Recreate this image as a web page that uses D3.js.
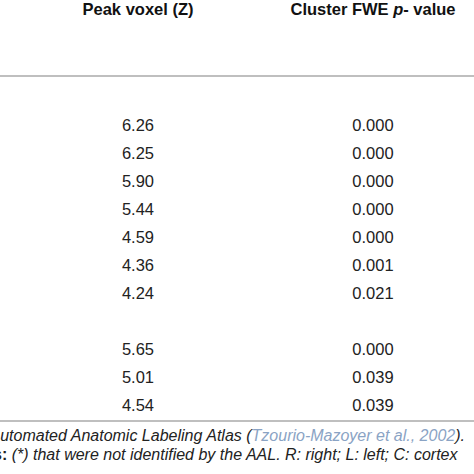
<!DOCTYPE html>
<html><head><meta charset="utf-8">
<script src="https://cdn.jsdelivr.net/npm/d3@7"></script>
<style>body{margin:0;background:#fff}</style>
</head><body>
<div id="chart"></div>
<script>
var headers = ["Peak voxel (Z)", "Cluster FWE p- value"];
var peakZ = ["6.26", "6.25", "5.90", "5.44", "4.59", "4.36", "4.24", null, "5.65", "5.01", "4.54"];
var pValues = ["0.000", "0.000", "0.000", "0.000", "0.000", "0.001", "0.021", null, "0.000", "0.039", "0.039"];

var width = 474, height = 474;
var svg = d3.select("#chart").append("svg").attr("width", width).attr("height", height)
    .style("font-family", "'Liberation Sans', Arial, sans-serif");

var x = d3.scalePoint().domain([0, 1]).range([138, 373]);
var y = d3.scaleLinear().domain([0, 10]).range([125, 405]);

// header
var hd = svg.append("g").attr("font-weight", "bold").attr("font-size", 16.5).attr("fill", "#111")
    .attr("text-anchor", "middle");
hd.append("text").attr("x", x(0)).attr("y", 15).text(headers[0]);
var h2 = hd.append("text").attr("x", x(1)).attr("y", 15);
h2.append("tspan").text("Cluster FWE ");
h2.append("tspan").attr("font-style", "italic").text("p");
h2.append("tspan").text("- value");

svg.append("line").attr("x1", 0).attr("x2", width).attr("y1", 76).attr("y2", 76)
    .attr("stroke", "#aaa").attr("stroke-width", 1.5);
svg.append("line").attr("x1", 0).attr("x2", width).attr("y1", 421).attr("y2", 421)
    .attr("stroke", "#aaa").attr("stroke-width", 1.5);

var rows = svg.append("g").attr("font-size", 16.5).attr("fill", "#222").attr("text-anchor", "middle");
peakZ.forEach(function (v, i) {
    if (v == null) return;
    rows.append("text").attr("x", x(0)).attr("y", y(i)).attr("dy", "0.35em").text(v);
    rows.append("text").attr("x", x(1)).attr("y", y(i)).attr("dy", "0.35em").text(pValues[i]);
});

// footnote
var fn = svg.append("g").attr("font-size", 16).attr("font-style", "italic").attr("fill", "#222");
var l1 = fn.append("text").attr("x", 465).attr("y", 441).attr("text-anchor", "end");
l1.append("tspan").text("Automated Anatomic Labeling Atlas (");
l1.append("tspan").attr("fill", "#8aa3c4").text("Tzourio-Mazoyer et al., 2002");
l1.append("tspan").text(").");
var l2 = fn.append("text").attr("x", -7).attr("y", 460);
l2.append("tspan").attr("font-weight", "bold").attr("font-style", "normal").text("s:");
l2.append("tspan").text(" (*) that were not identified by the AAL. R: right; L: left; C: cortex");
</script>
</body></html>
